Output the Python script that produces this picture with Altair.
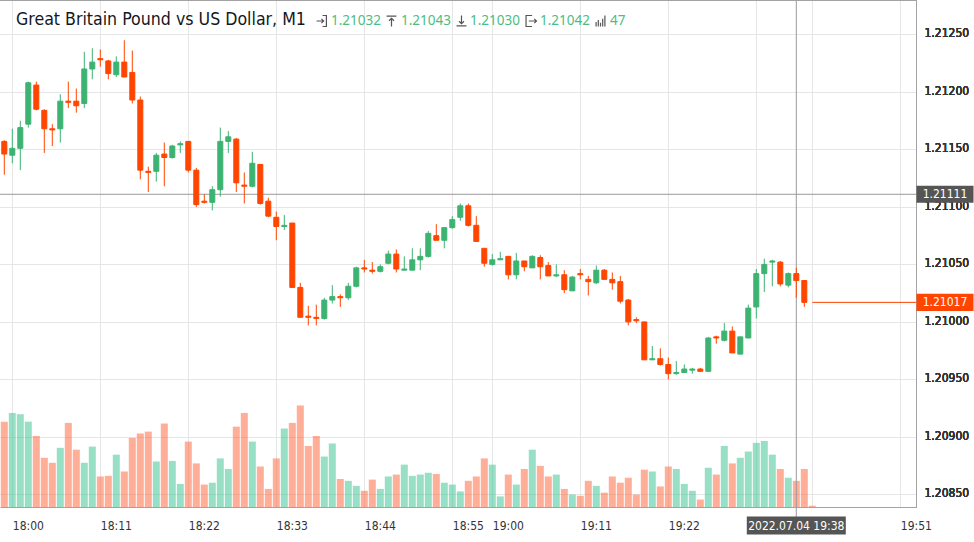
import altair as alt
import pandas as pd

# ---- GBPUSD, M1 candles from 17:59 to 19:39 (UTC) ----
symbol_title = "Great Britain Pound vs US Dollar, M1"

opens = [
    1.21157, 1.21145, 1.21151, 1.21172, 1.21206, 1.21184, 1.21168, 1.21168, 1.21192, 1.21192,
    1.21190, 1.21220, 1.21229, 1.21227, 1.21215, 1.21226, 1.21217, 1.21193, 1.21131, 1.21131,
    1.21146, 1.21143, 1.21154, 1.21157, 1.21132, 1.21105, 1.21104, 1.21115, 1.21157, 1.21159,
    1.21119, 1.21118, 1.21137, 1.21105, 1.21091, 1.21083, 1.21086, 1.21030, 1.21005, 1.21004,
    1.21003, 1.21019, 1.21022, 1.21021, 1.21031, 1.21047, 1.21045, 1.21044, 1.21051, 1.21059,
    1.21045, 1.21045, 1.21054, 1.21057, 1.21075, 1.21071, 1.21082, 1.21091, 1.21101, 1.21084,
    1.21064, 1.21050, 1.21054, 1.21057, 1.21041, 1.21053, 1.21047, 1.21056, 1.21049, 1.21040,
    1.21041, 1.21027, 1.21042, 1.21037, 1.21034, 1.21045, 1.21037, 1.21035, 1.21019, 1.21002,
    1.21000, 1.20967, 1.20968, 1.20963, 1.20955, 1.20956, 1.20958, 1.20959, 1.20957, 1.20987,
    1.20984, 1.20992, 1.20972, 1.20986, 1.21013, 1.21042, 1.21052, 1.21052, 1.21032, 1.21042,
    1.21036,
]
highs = [
    1.21158, 1.21168, 1.21175, 1.21209, 1.21209, 1.21185, 1.21172, 1.21198, 1.21209, 1.21203,
    1.21235, 1.21238, 1.21237, 1.21228, 1.21231, 1.21245, 1.21236, 1.21196, 1.21135, 1.21147,
    1.21156, 1.21154, 1.21157, 1.21157, 1.21134, 1.21111, 1.21118, 1.21169, 1.21166, 1.21160,
    1.21130, 1.21148, 1.21137, 1.21108, 1.21096, 1.21093, 1.21086, 1.21034, 1.21014, 1.21015,
    1.21021, 1.21032, 1.21024, 1.21034, 1.21048, 1.21054, 1.21052, 1.21050, 1.21062, 1.21063,
    1.21057, 1.21064, 1.21064, 1.21079, 1.21085, 1.21082, 1.21092, 1.21103, 1.21103, 1.21092,
    1.21064, 1.21059, 1.21061, 1.21057, 1.21060, 1.21053, 1.21058, 1.21058, 1.21052, 1.21050,
    1.21045, 1.21040, 1.21046, 1.21040, 1.21049, 1.21046, 1.21043, 1.21040, 1.21020, 1.21004,
    1.21000, 1.20979, 1.20977, 1.20969, 1.20966, 1.20963, 1.20960, 1.20960, 1.20987, 1.20988,
    1.20999, 1.20996, 1.20987, 1.21015, 1.21046, 1.21055, 1.21054, 1.21053, 1.21043, 1.21047,
    1.21036,
]
lows = [
    1.21128, 1.21138, 1.21132, 1.21169, 1.21184, 1.21147, 1.21153, 1.21156, 1.21186, 1.21182,
    1.21186, 1.21211, 1.21222, 1.21211, 1.21213, 1.21213, 1.21190, 1.21124, 1.21113, 1.21122,
    1.21118, 1.21142, 1.21147, 1.21130, 1.21100, 1.21103, 1.21097, 1.21109, 1.21147, 1.21113,
    1.21103, 1.21117, 1.21102, 1.21091, 1.21071, 1.21080, 1.21030, 1.21004, 1.20997, 1.20997,
    1.21002, 1.21016, 1.21013, 1.21019, 1.21030, 1.21043, 1.21042, 1.21043, 1.21050, 1.21043,
    1.21045, 1.21045, 1.21045, 1.21056, 1.21071, 1.21064, 1.21081, 1.21088, 1.21083, 1.21070,
    1.21048, 1.21049, 1.21054, 1.21037, 1.21037, 1.21044, 1.21047, 1.21037, 1.21040, 1.21039,
    1.21025, 1.21027, 1.21037, 1.21023, 1.21033, 1.21037, 1.21028, 1.21016, 1.20997, 1.20999,
    1.20967, 1.20967, 1.20962, 1.20950, 1.20954, 1.20956, 1.20955, 1.20957, 1.20957, 1.20981,
    1.20983, 1.20973, 1.20972, 1.20986, 1.21003, 1.21026, 1.21031, 1.21031, 1.21030, 1.21021,
    1.21013,
]
closes = [
    1.21146, 1.21151, 1.21169, 1.21208, 1.21185, 1.21168, 1.21167, 1.21192, 1.21191, 1.21188,
    1.21220, 1.21226, 1.21228, 1.21216, 1.21226, 1.21213, 1.21193, 1.21132, 1.21130, 1.21145,
    1.21143, 1.21153, 1.21155, 1.21132, 1.21102, 1.21104, 1.21115, 1.21157, 1.21161, 1.21121,
    1.21118, 1.21138, 1.21103, 1.21092, 1.21083, 1.21084, 1.21030, 1.21004, 1.21004, 1.21003,
    1.21019, 1.21022, 1.21021, 1.21031, 1.21047, 1.21046, 1.21044, 1.21048, 1.21059, 1.21046,
    1.21046, 1.21054, 1.21057, 1.21077, 1.21071, 1.21082, 1.21089, 1.21101, 1.21084, 1.21070,
    1.21051, 1.21054, 1.21055, 1.21041, 1.21053, 1.21048, 1.21057, 1.21048, 1.21040, 1.21041,
    1.21028, 1.21039, 1.21041, 1.21035, 1.21045, 1.21037, 1.21034, 1.21018, 1.21000, 1.21001,
    1.20967, 1.20968, 1.20963, 1.20955, 1.20956, 1.20959, 1.20959, 1.20957, 1.20986, 1.20986,
    1.20992, 1.20973, 1.20987, 1.21012, 1.21042, 1.21050, 1.21053, 1.21033, 1.21042, 1.21036,
    1.21017,
]
# tick volume per minute; the last entry is the 19:40 bar that has just opened
volumes = [
    137, 151, 149, 137, 114, 79, 71, 95, 135, 92,
    71, 97, 49, 50, 84, 57, 111, 118, 121, 73,
    134, 74, 37, 105, 70, 36, 39, 78, 61, 129,
    151, 105, 65, 29, 78, 126, 135, 163, 98, 114,
    81, 102, 45, 42, 34, 26, 44, 29, 49, 52,
    68, 50, 52, 55, 53, 39, 36, 25, 42, 49,
    78, 68, 17, 52, 36, 61, 92, 66, 49, 52,
    29, 20, 18, 42, 34, 23, 49, 39, 47, 20,
    60, 57, 33, 65, 61, 37, 26, 12, 63, 52,
    98, 70, 79, 89, 103, 106, 84, 61, 47, 42,
    61, 2,
]
forming_bar_dir = "down"

# axis ticks
time_ticks = ["18:00", "18:11", "18:22", "18:33", "18:44", "18:55", "19:00",
              "19:11", "19:22", "19:33", "19:40", "19:51"]
hidden_time_labels = ["19:33", "19:40"]
price_ticks = [1.2085, 1.2090, 1.2095, 1.2100, 1.2105, 1.2110, 1.2115, 1.2120, 1.2125]

# crosshair / info line (the 19:37 bar)
info_bar = 98
crosshair_time = "2022-07-04T19:38:00Z"
crosshair_text = "2022.07.04 19:38"
crosshair_price = 1.21111

UP, DOWN = "#3cb371", "#ff4500"
VOL_UP, VOL_DOWN = "#31c18b", "#ff5d2f"
GRID, FRAME, INK = "#e6e6e6", "#a3a3a3", "#333333"
AXIS_FONT = "DejaVu Sans Condensed"

first_bar = pd.Timestamp("2022-07-04 17:59", tz="UTC")
stamps = [(first_bar + pd.Timedelta(minutes=i)).strftime("%Y-%m-%dT%H:%M:%SZ")
          for i in range(len(volumes))]

candles = pd.DataFrame({
    "time": stamps[:len(opens)],
    "open": opens, "high": highs, "low": lows, "close": closes,
})
candles["dir"] = ["up" if c >= o else "down" for o, c in zip(opens, closes)]

vol = pd.DataFrame({
    "time": stamps,
    "volume": volumes,
    "dir": list(candles["dir"]) + [forming_bar_dir],
})


def dt(h, m, s=0, ms=0):
    return alt.DateTime(year=2022, month=7, date=4, hours=h, minutes=m,
                        seconds=s, milliseconds=ms, utc=True)


x_domain = [dt(17, 58, 27, 750), dt(19, 52, 57, 750)]
x_scale = alt.Scale(type="utc", domain=x_domain, padding=0)
tick_values = [dt(int(t[:2]), int(t[3:])) for t in time_ticks]
hidden_expr = "[" + ",".join(f"'{t}'" for t in hidden_time_labels) + "]"

time_axis = alt.Axis(
    title=None, values=tick_values, format="%H:%M", labelExpr=
    f"indexof({hidden_expr}, datum.label) >= 0 ? '' : datum.label",
    labelAlign="left", labelBaseline="middle", labelPadding=18, labelFont=AXIS_FONT,
    labelFontSize=12, labelColor=INK, labelOverlap=False, labelFlush=False,
    ticks=False, grid=True, gridColor=GRID, domainColor=FRAME,
)
y_scale = alt.Scale(domain=[1.20839, 1.21280], nice=False, zero=False, padding=0)
price_axis = alt.Axis(
    title=None, orient="right", values=price_ticks, format=".5f",
    labelFont=AXIS_FONT, labelFontSize=12, labelColor=INK, labelPadding=8,
    labelBaseline="middle", labelOffset=-1.5, ticks=False, grid=True,
    gridColor=GRID, domainColor=FRAME,
)
X = alt.X("time:T", scale=x_scale, axis=time_axis)


def dir_color(up, down):
    return alt.condition("datum.dir == 'up'", alt.value(up), alt.value(down))


base = alt.Chart(candles)

volume_bars = alt.Chart(vol).mark_bar(size=7, opacity=0.5).encode(
    x=X,
    y=alt.Y("volume:Q", scale=alt.Scale(domain=[0, 814], padding=0), axis=None),
    color=dir_color(VOL_UP, VOL_DOWN),
)

cross = pd.DataFrame({"time": [crosshair_time], "price": [crosshair_price]})
cross_h = alt.Chart(cross).mark_rule(color="#9a9a9a", strokeWidth=1).encode(
    y=alt.Y("price:Q", scale=y_scale, axis=price_axis),
)
cross_v = alt.Chart(cross).mark_rule(color="#9a9a9a", strokeWidth=1).encode(
    x=X, y=alt.value(0), y2=alt.value(517),
)

wicks = base.mark_rule(strokeWidth=1).encode(
    x=X,
    y=alt.Y("low:Q", scale=y_scale, axis=price_axis),
    y2="high:Q",
    color=dir_color(UP, DOWN),
)
bodies = base.mark_bar(size=5, strokeWidth=1).encode(
    x=X,
    y=alt.Y("open:Q", scale=y_scale, axis=price_axis),
    y2="close:Q",
    color=dir_color(UP, DOWN),
    stroke=dir_color(UP, DOWN),
)

last = pd.DataFrame({
    "time": [stamps[-1]],
    "end": ["2022-07-04T19:52:57.750Z"],
    "price": [closes[-1]],
})
last_line = alt.Chart(last).mark_rule(color=DOWN, strokeWidth=1).encode(
    x=X, x2="end:T", y=alt.Y("price:Q", scale=y_scale, axis=price_axis),
)

top_frame = alt.Chart(cross).mark_rule(color=FRAME, strokeWidth=1).encode(
    y=alt.value(0.5)
)

# price tags on the right axis
tags = pd.DataFrame({
    "price": [crosshair_price, closes[-1]],
    "label": [f"{crosshair_price:.5f}", f"{closes[-1]:.5f}"],
    "fill": ["#555555", DOWN],
})
tag_box = alt.Chart(tags).mark_point(
    shape="M-1,-0.3H1V0.3H-1Z", size=57 ** 2, filled=True, opacity=1, strokeWidth=0
).encode(
    x=alt.value(945), y=alt.Y("price:Q", scale=y_scale, axis=price_axis),
    color=alt.Color("fill:N", scale=None),
)
tag_text = alt.Chart(tags).mark_text(
    font=AXIS_FONT, fontSize=12, color="white", baseline="middle", align="center"
).encode(
    x=alt.value(945), y=alt.Y("price:Q", scale=y_scale, axis=price_axis), text="label:N",
)

# time tag under the crosshair
time_tag = pd.DataFrame({"time": [crosshair_time], "label": [crosshair_text]})
time_box = alt.Chart(time_tag).mark_point(
    shape="M-1,-0.18H1V0.18H-1Z", size=99 ** 2, filled=True, opacity=1,
    strokeWidth=0, color="#555555",
).encode(x=X, y=alt.value(525.5))
time_text = alt.Chart(time_tag).mark_text(
    font=AXIS_FONT, fontSize=12, color="white", baseline="middle", align="center"
).encode(x=X, y=alt.value(526), text="label:N")

# header: symbol name and OHLC / volume of the highlighted bar
header_title = alt.Chart(cross).mark_text(
    text=symbol_title, font="DejaVu Sans Condensed", fontSize=17.6, color="#131722",
    align="left", baseline="middle",
).encode(x=alt.value(16), y=alt.value(20))

header_values = pd.DataFrame({
    "value": [f"{opens[info_bar]:.5f}", f"{highs[info_bar]:.5f}",
              f"{lows[info_bar]:.5f}", f"{closes[info_bar]:.5f}", str(volumes[info_bar])],
    "x": [331, 401, 470, 540, 610],
    "icon_x": [322, 391.5, 461.5, 531, 600.5],
    "icon": [
        "M-1,0H0.3M-0.1,-0.4L0.3,0L-0.1,0.4M0.1,-1H0.8V1H0.1",
        "M-0.9,-0.9H0.9M0,-0.5V1M-0.45,-0.05L0,-0.5L0.45,-0.05",
        "M-0.9,0.9H0.9M0,-1V0.5M-0.45,0.05L0,0.5L0.45,0.05",
        "M0.2,-1H-0.9V1H0.2M-0.4,0H1M0.6,-0.4L1,0L0.6,0.4",
        "M-0.8,1V0.2M-0.4,1V-0.2M0,1V0.3M0.4,1V-0.4M0.8,1V-1",
    ],
})
header_text = alt.Chart(header_values).mark_text(
    font="Noto Sans", fontSize=13.5, color="#4cbd84", align="left", baseline="middle",
).encode(x=alt.X("x:Q", scale=None), y=alt.value(21), text="value:N")
header_icons = alt.Chart(header_values).mark_point(
    size=121, filled=False, stroke="#555555", strokeWidth=1.2, opacity=1,
).encode(
    x=alt.X("icon_x:Q", scale=None), y=alt.value(21),
    shape=alt.Shape("icon:N", scale=None),
)

chart = alt.layer(
    volume_bars, cross_h, cross_v, wicks, bodies, last_line, top_frame,
    tag_box, tag_text, time_box, time_text, header_title, header_text, header_icons,
).resolve_scale(
    y="independent"
).properties(
    width=916, height=507,
    padding={"left": 0, "top": 0, "right": 58, "bottom": 35},
    autosize=alt.AutoSizeParams(type="none"),
    background="white",
).configure_view(stroke=None)

chart.save("out.html", embed_options={"renderer": "svg", "actions": False})
